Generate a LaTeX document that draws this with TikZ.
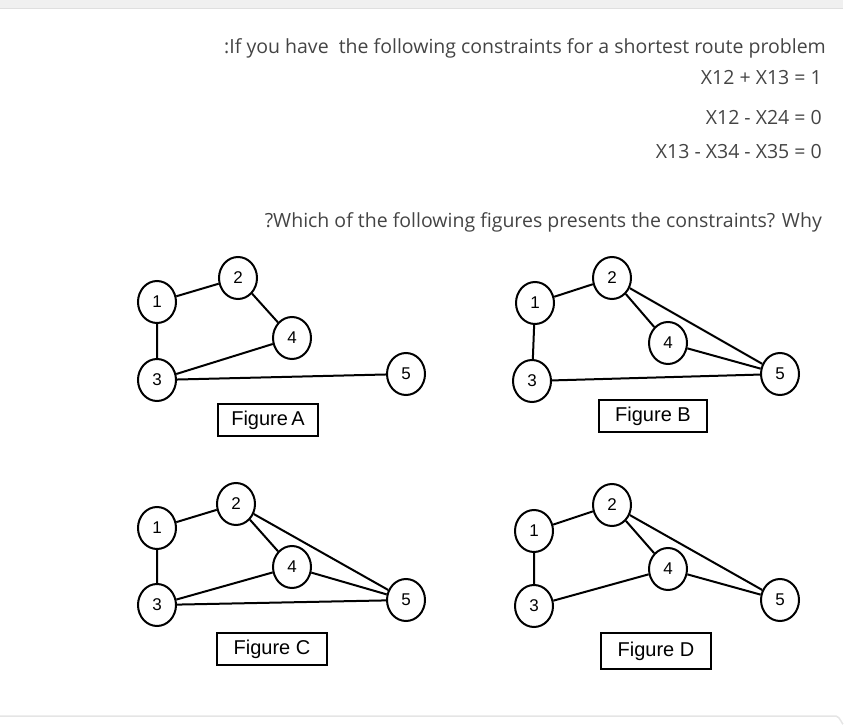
\documentclass[tikz,border=0pt]{standalone}
\usepackage{fontspec}
\setmainfont{Open Sans}
\newfontfamily\arial{Liberation Sans}
\usetikzlibrary{shapes.geometric}
\definecolor{txt}{HTML}{444444}
\begin{document}
\begin{tikzpicture}[x=1pt,y=-1pt,
  vtx/.style={draw,line width=2pt,ellipse,minimum width=38pt,minimum height=42pt,inner sep=0pt,font=\arial\fontsize{17}{17}\selectfont},
  figlab/.style={draw,line width=1.8pt,font=\arial\fontsize{20}{20}\selectfont,minimum width=100pt,minimum height=32pt,inner sep=3pt},
  txtline/.style={anchor=east,text=txt,font=\fontsize{19.5}{22}\selectfont,inner sep=0pt},
  edge/.style={line width=2pt}]
\useasboundingbox (0,0) rectangle (851,727);
\fill[gray!12] (0,0) rectangle (843,8);
\draw[gray!25] (0,8) -- (843,8);
\draw[gray!20,line width=1.5pt] (0,716) -- (836,716) to[out=0,in=-90] (843,723);
\node[txtline] (t1) at (826,48) {:If you have\ \ the following constraints for a shortest route problem};
\node[txtline] (t2) at (822,78) {X12 + X13 = 1};
\node[txtline] (t3) at (822,118) {X12 - X24 = 0};
\node[txtline] (t4) at (822,152) {X13 - X34 - X35 = 0};
\node[txtline] (t5) at (822,222) {?Which of the following figures presents the constraints? Why};
% Figure A
\node[vtx] (a1) at (157,302) {1};
\node[vtx] (a2) at (238,278) {2};
\node[vtx] (a4) at (292,338) {4};
\node[vtx] (a3) at (157,380) {3};
\node[vtx] (a5) at (406,374) {5};
\draw[edge] (a1)--(a2) (a1)--(a3) (a2)--(a4) (a4)--(a3) (a3)--(a5);
\node[figlab] (la) at (268,420) {Figure\,A};
% Figure B
\node[vtx] (b1) at (535,303) {1};
\node[vtx] (b2) at (612,278) {2};
\node[vtx] (b4) at (668,343) {4};
\node[vtx] (b3) at (532,381) {3};
\node[vtx] (b5) at (780,374) {5};
\draw[edge] (b1)--(b2) (b1)--(b3) (b2)--(b4) (b2)--(b5) (b4)--(b5) (b3)--(b5);
\node[figlab,minimum width=108pt] (lb) at (653,416) {Figure B};
% Figure C
\node[vtx] (c1) at (157,528) {1};
\node[vtx] (c2) at (236,504) {2};
\node[vtx] (c4) at (292,567) {4};
\node[vtx] (c3) at (157,605) {3};
\node[vtx] (c5) at (406,600) {5};
\draw[edge] (c1)--(c2) (c1)--(c3) (c2)--(c4) (c2)--(c5) (c4)--(c5) (c3)--(c4) (c3)--(c5);
\node[figlab,minimum width=110pt] (lc) at (272,649) {Figure C};
% Figure D
\node[vtx] (d1) at (534,531) {1};
\node[vtx] (d2) at (612,505) {2};
\node[vtx] (d4) at (668,569) {4};
\node[vtx] (d3) at (534,606) {3};
\node[vtx] (d5) at (780,600) {5};
\draw[edge] (d1)--(d2) (d1)--(d3) (d2)--(d4) (d2)--(d5) (d4)--(d5) (d3)--(d4);
\node[figlab,minimum width=110pt,minimum height=36pt] (ld) at (656,651) {Figure D};
\end{tikzpicture}
\end{document}
